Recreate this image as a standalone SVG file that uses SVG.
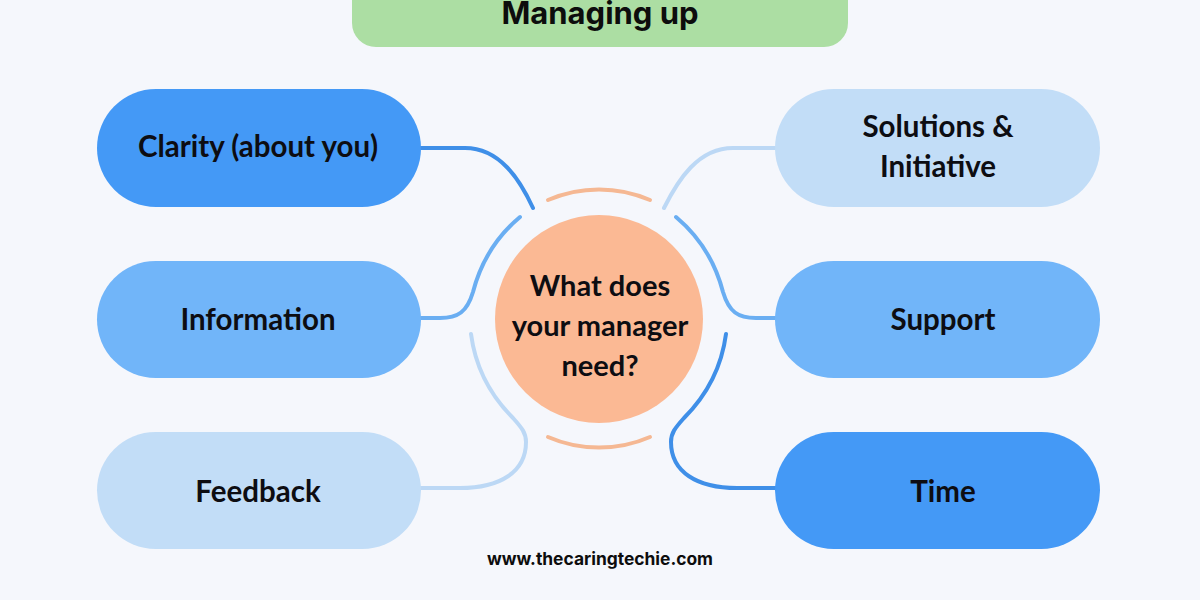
<svg xmlns="http://www.w3.org/2000/svg" width="1200" height="600" viewBox="0 0 1200 600">
  <style>
    .pill-dark { fill: #4499f6; }
    .pill-mid { fill: #71b5f9; }
    .pill-light { fill: #c2ddf7; }
    .label { font-family: Lato, "Liberation Sans", sans-serif; font-weight: 700; font-size: 29.5px; fill: #0d0d12; text-anchor: middle; }
    .center-label { font-size: 29px; }
    .conn { fill: none; stroke-width: 4; stroke-linecap: round; stroke-linejoin: round; }
    .c-dark { stroke: #3f8fe8; }
    .c-mid { stroke: #6aaef2; }
    .c-light { stroke: #bcd8f5; }
    .ring { fill: none; stroke: #f5b893; stroke-width: 4; stroke-linecap: round; }
    .title { font-family: Inter, "Liberation Sans", sans-serif; font-weight: 700; font-size: 31px; fill: #0d0d0d; text-anchor: middle; }
    .footer { font-family: Inter, "Liberation Sans", sans-serif; font-weight: 700; font-size: 17.4px; fill: #0d0d0d; text-anchor: middle; }
  </style>
  <rect x="0" y="0" width="1200" height="600" fill="#f5f7fc"/>

  <g id="title">
    <rect x="352" y="-30" width="496" height="77" rx="24" fill="#acdea3"/>
    <text class="title" x="600" y="24">Managing up</text>
  </g>

  <g id="connectors">
    <path class="conn c-dark" d="M421,148 L465,148 C500,148 520,180 533,208"/>
    <path class="conn c-light" d="M777,148 L733,148 C698,148 678,180 664,208"/>
    <path class="conn c-mid" d="M520,217 C495,238 480,265 473,292 C467,312 458,318 440,318 L421,318"/>
    <path class="conn c-mid" d="M676,217 C701,238 716,265 723,292 C729,312 738,318 756,318 L777,318"/>
    <path class="conn c-light" d="M471,334 C476,372 495,400 513,418 C522,428 526,433 526,442 C526,472 500,488 460,488 L421,488"/>
    <path class="conn c-dark" d="M726,334 C721,372 702,400 684,418 C675,428 671,433 671,442 C671,472 697,488 737,488 L777,488"/>
    <path class="ring" d="M548,200 A128,128 0 0 1 650,200"/>
    <path class="ring" d="M548,437 A128,128 0 0 0 650,437"/>
  </g>

  <g id="center">
    <circle cx="599" cy="319" r="104" fill="#fbb994"/>
    <text class="label center-label" x="600" y="296">What does</text>
    <text class="label center-label" x="600" y="336">your manager</text>
    <text class="label center-label" x="600" y="376">need?</text>
  </g>

  <g id="clarity">
    <rect class="pill-dark" x="97" y="89" width="324" height="118" rx="59"/>
    <text class="label" x="258" y="157">Clarity (about you)</text>
  </g>
  <g id="information">
    <rect class="pill-mid" x="97" y="261" width="324" height="117" rx="58.5"/>
    <text class="label" x="258" y="330">Information</text>
  </g>
  <g id="feedback">
    <rect class="pill-light" x="97" y="432" width="324" height="117" rx="58.5"/>
    <text class="label" x="258" y="502">Feedback</text>
  </g>

  <g id="solutions">
    <rect class="pill-light" x="775" y="89" width="325" height="118" rx="59"/>
    <text class="label" x="938" y="137">Solutions &amp;</text>
    <text class="label" x="938" y="177">Initiative</text>
  </g>
  <g id="support">
    <rect class="pill-mid" x="775" y="261" width="325" height="117" rx="58.5"/>
    <text class="label" x="943" y="330">Support</text>
  </g>
  <g id="time">
    <rect class="pill-dark" x="775" y="432" width="325" height="117" rx="58.5"/>
    <text class="label" x="943" y="502">Time</text>
  </g>

  <g id="footer">
    <text class="footer" x="600" y="565">www.thecaringtechie.com</text>
  </g>
</svg>
